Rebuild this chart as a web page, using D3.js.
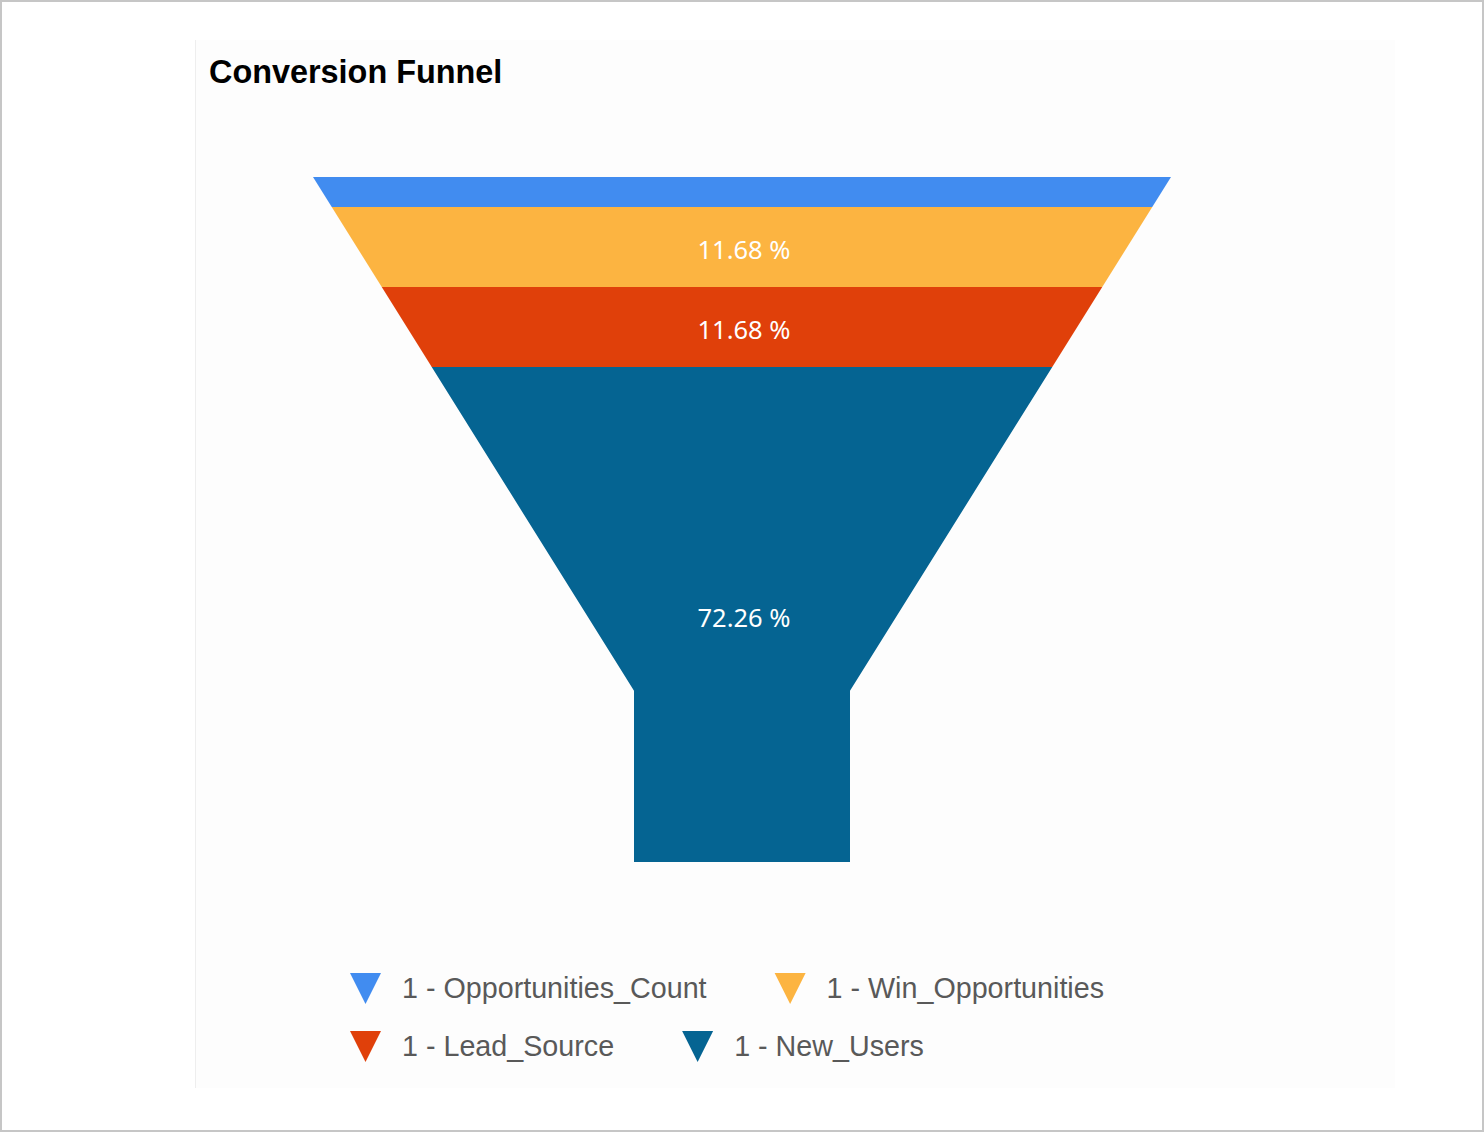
<!DOCTYPE html>
<html>
<head>
<meta charset="utf-8">
<script src="https://cdn.jsdelivr.net/npm/d3@7"></script>
<style>
  html, body { margin: 0; padding: 0; background: #ffffff; }
  svg { display: block; }
</style>
</head>
<body>
<svg id="chart" width="1484" height="1132"></svg>
<script>
const title = "Conversion Funnel";
const categories = ["1 - Opportunities_Count", "1 - Win_Opportunities", "1 - Lead_Source", "1 - New_Users"];
const values = [4.38, 11.68, 11.68, 72.26];
const palette = ["#418CF0", "#FCB441", "#E0400A", "#056492"];

const W = 1484, H = 1132;
const svg = d3.select("#chart");

// frame
svg.append("rect").attr("x", 1).attr("y", 1).attr("width", W - 2).attr("height", H - 2)
  .attr("fill", "#ffffff").attr("stroke", "#c6c6c6").attr("stroke-width", 2);
svg.append("rect").attr("x", 195).attr("y", 40).attr("width", 1200).attr("height", 1048)
  .attr("fill", "#fdfdfd");
svg.append("line").attr("x1", 195.5).attr("x2", 195.5).attr("y1", 40).attr("y2", 1088)
  .attr("stroke", "#eeeeee").attr("stroke-width", 1);

svg.append("text").attr("x", 209).attr("y", 83)
  .attr("font-family", "Liberation Sans, Arial, sans-serif").attr("font-weight", "bold")
  .attr("font-size", 32.4).attr("fill", "#000").text(title);

// funnel geometry
const cx = 742, topY = 177, botY = 862;
const topW = 858, neckW = 216, neckFrac = 0.25;
const total = d3.sum(values);
const y = d3.scaleLinear().domain([0, total]).range([topY, botY]);
const neckY = botY - (botY - topY) * neckFrac;
const halfW = d3.scaleLinear().domain([topY, neckY]).range([topW / 2, neckW / 2]).clamp(true);

const cum = [0];
values.forEach((v, i) => cum.push(cum[i] + v));

const g = svg.append("g");
values.forEach((v, i) => {
  const y0 = y(cum[i]), y1 = y(cum[i + 1]);
  const pts = [];
  pts.push([cx - halfW(y0), y0], [cx + halfW(y0), y0]);
  if (y0 < neckY && y1 > neckY) pts.push([cx + halfW(neckY), neckY]);
  pts.push([cx + halfW(y1), y1], [cx - halfW(y1), y1]);
  if (y0 < neckY && y1 > neckY) pts.push([cx - halfW(neckY), neckY]);
  g.append("path").attr("d", d3.line()(pts) + "Z").attr("fill", palette[i]);
  if (v / total > 0.05) {
    g.append("text").attr("x", cx + 2).attr("y", (y0 + y1) / 2 + 2)
      .attr("text-anchor", "middle").attr("dominant-baseline", "central")
      .attr("font-family", "Noto Sans, Open Sans, sans-serif").attr("font-size", 25.5)
      .attr("fill", "#ffffff").text(v.toFixed(2) + " %");
  }
});

// legend
const lg = svg.append("g");
const rows = [[0, 1], [2, 3]];
const rowY = [988, 1046];
rows.forEach((row, r) => {
  let x = 350;
  row.forEach(i => {
    const cy = rowY[r];
    lg.append("path")
      .attr("d", d3.line()([[x, cy - 15], [x + 31, cy - 15], [x + 15.5, cy + 16]]) + "Z")
      .attr("fill", palette[i]);
    const t = lg.append("text").attr("x", x + 52).attr("y", cy + 10)
      .attr("font-family", "Liberation Sans, Arial, sans-serif").attr("font-size", 28.7)
      .attr("fill", "#595959").text(categories[i]);
    x += 52 + t.node().getComputedTextLength() + 68;
  });
});
</script>
</body>
</html>
